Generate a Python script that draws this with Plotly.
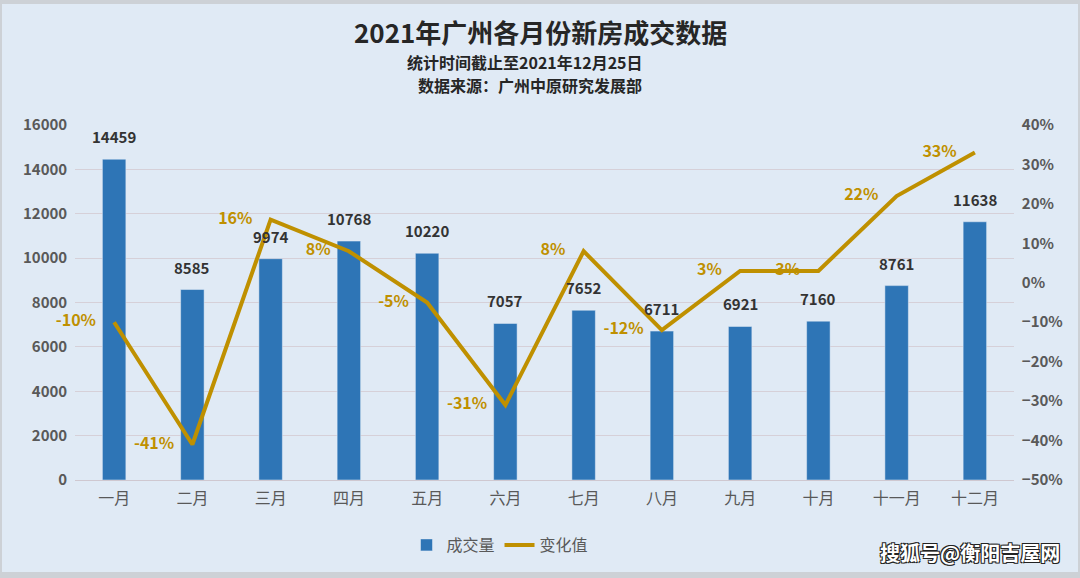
import plotly.graph_objects as go

months = ["一月", "二月", "三月", "四月", "五月", "六月", "七月", "八月", "九月", "十月", "十一月", "十二月"]
volume = [14459, 8585, 9974, 10768, 10220, 7057, 7652, 6711, 6921, 7160, 8761, 11638]
change = [-0.10, -0.41, 0.16, 0.08, -0.05, -0.31, 0.08, -0.12, 0.03, 0.03, 0.22, 0.33]
change_labels = ["-10%", "-41%", "16%", "8%", "-5%", "-31%", "8%", "-12%", "3%", "3%", "22%", "33%"]

W, H = 1080, 578
ML, MR, MT, MB = 75, 66, 125, 98
PW, PH = W - ML - MR, H - MT - MB

def px(x):
    return (x - ML) / PW

def py(y):
    return (H - MB - y) / PH

FONT = "Noto Sans CJK SC"
BLUE = "#2e75b6"
GOLD = "#bf9000"
GREY = "#595959"

fig = go.Figure()
fig.add_trace(go.Bar(
    x=months, y=volume, name="成交量", marker_color=BLUE, width=0.30,
))
fig.add_trace(go.Scatter(
    x=months, y=change, name="变化值", yaxis="y2", mode="lines+text",
    line=dict(color=GOLD, width=4),
    text=[t + "     " for t in change_labels], textposition="middle left", cliponaxis=False,
    textfont=dict(family=FONT, size=16, color=GOLD, weight="bold"),
))

bar_labels = [dict(x=m, y=v, xref="x", yref="y", text=f"<b>{v}</b>", showarrow=False,
                   yanchor="bottom", yshift=10,
                   font=dict(family=FONT, size=15, color="#333333"))
              for m, v in zip(months, volume)]

fig.update_layout(
    width=W, height=H,
    margin=dict(l=ML, r=MR, t=MT, b=MB),
    paper_bgcolor="#cdd1d6",
    plot_bgcolor="rgba(0,0,0,0)",
    font=dict(family=FONT, color=GREY),
    showlegend=True,
    legend=dict(orientation="h", x=px(500), xanchor="center", y=py(545), yanchor="middle",
                font=dict(family=FONT, size=16, color=GREY), bgcolor="rgba(0,0,0,0)",
                traceorder="normal"),
    xaxis=dict(type="category", range=[-0.5, len(months) - 0.5], showgrid=False, showline=True,
               linecolor="#cfc8d0", tickfont=dict(family=FONT, size=16, color=GREY), ticks="",
               ticklabelstandoff=4, automargin=False),
    yaxis=dict(range=[0, 16000], dtick=2000, tickformat="d", showgrid=True, gridcolor="#d6d0d8",
               gridwidth=1, zeroline=False, automargin=False,
               tickfont=dict(family=FONT, size=15, color=GREY, weight="bold"),
               ticksuffix="  "),
    yaxis2=dict(range=[-0.5, 0.4], dtick=0.1, tickformat=".0%", overlaying="y", side="right",
                showgrid=False, zeroline=False, automargin=False,
                tickfont=dict(family=FONT, size=15, color=GREY, weight="bold"),
                tickprefix="  "),
    shapes=[dict(type="rect", xref="paper", yref="paper", x0=px(2), x1=px(1078), y0=py(572), y1=py(4),
                 fillcolor="#e0eaf5", line=dict(width=0), layer="below")],
    annotations=bar_labels + [
        dict(text="<b>2021年广州各月份新房成交数据</b>", x=px(540), y=py(32), xref="paper", yref="paper",
             yanchor="middle", showarrow=False, font=dict(family=FONT, size=26, color="#262626")),
        dict(text="<b>统计时间截止至2021年12月25日</b>", x=px(525), y=py(62), xref="paper", yref="paper",
             yanchor="middle", showarrow=False, font=dict(family=FONT, size=16, color="#262626")),
        dict(text="<b>数据来源：广州中原研究发展部</b>", x=px(530), y=py(85), xref="paper", yref="paper",
             yanchor="middle", showarrow=False, font=dict(family=FONT, size=16, color="#262626")),
        dict(text="<b>搜狐号@衡阳吉屋网</b>", x=px(1062), y=py(552), xref="paper", yref="paper",
             xanchor="right", yanchor="middle", showarrow=False,
             font=dict(family=FONT, size=20, color="white",
                       shadow="-1px -1px 0 #222, 1px -1px 0 #222, -1px 1px 0 #222, 1px 1px 0 #222")),
    ],
)

fig.write_html("out.html")
